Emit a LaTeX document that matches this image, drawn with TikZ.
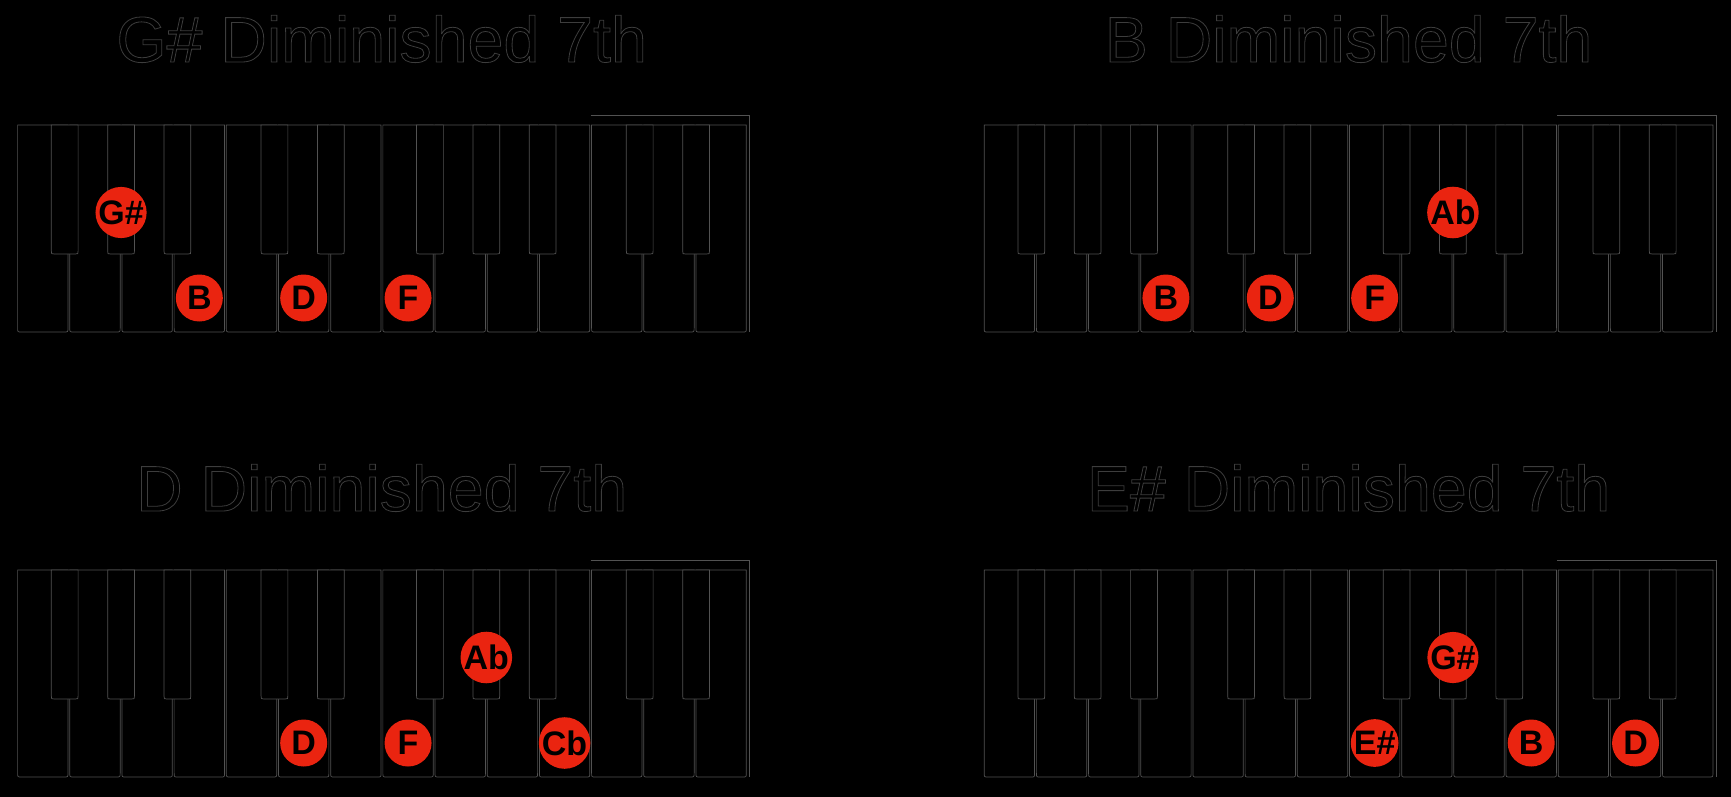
\documentclass[tikz,border=0pt]{standalone}
\usepackage{fontspec}
\setmainfont{Liberation Sans}
\definecolor{notered}{RGB}{234,36,16}
\definecolor{keyline}{gray}{0.32}
\definecolor{titleline}{gray}{0.24}
\def\kw{52.18}
\def\kh{207}
\def\bh{129}
\newcommand{\outlinetxt}[1]{\special{pdf:literal direct 1 Tr 0.8 w}#1\special{pdf:literal direct 0 Tr}}
\newcommand{\drawkeyboard}[2]{%
 \begin{scope}[shift={(#1,#2)}]
  \draw[keyline, line width=0.7pt] (11*\kw,-10) -- (14*\kw+2.4,-10) -- (14*\kw+2.4,\kh);
  \foreach \i in {0,...,13} {
    \pgfmathsetmacro\xa{\i*\kw+0.9}
    \pgfmathsetmacro\xb{(\i+1)*\kw-0.9}
    \draw[wkey] (\xa,0) -- (\xa,\kh-4) .. controls (\xa,\kh) .. (\xa+4,\kh) -- (\xb-4,\kh) .. controls (\xb,\kh) .. (\xb,\kh-4) -- (\xb,0) -- cycle;
  }
  \foreach \c in {0.92,2.0,3.08,4.94,6.02,7.92,9.0,10.08,11.94,13.02} {
    \pgfmathsetmacro\xa{\c*\kw-13.4}
    \pgfmathsetmacro\xb{\c*\kw+13.4}
    \draw[bkey] (\xa,0) -- (\xa,\bh-3) .. controls (\xa,\bh) .. (\xa+3,\bh) -- (\xb-3,\bh) .. controls (\xb,\bh) .. (\xb,\bh-3) -- (\xb,0) -- cycle;
  }
 \end{scope}}
\begin{document}
\begin{tikzpicture}[x=1pt,y=-1pt,
  wkey/.style={draw=keyline, line width=0.7pt},
  bkey/.style={draw=keyline, fill=black, line width=0.7pt},
  note/.style={circle, fill=notered, minimum size=47pt, inner sep=0pt,
    font=\fontsize{34}{34}\selectfont\bfseries, text=black},
  chordtitle/.style={anchor=base, inner sep=0pt, text=titleline,
    font=\fontsize{64.5}{70}\selectfont}]
\useasboundingbox (0,0) rectangle (1731,797);
\fill[black] (0,0) rectangle (1731,797);

% keyboards
\drawkeyboard{16.7}{125}
\drawkeyboard{983.3}{125}
\drawkeyboard{16.7}{570}
\drawkeyboard{983.3}{570}

% titles
\node[chordtitle] (t1) at (381.7,62) {\outlinetxt{G\# Diminished 7th}};
\node[chordtitle] (t2) at (1348.6,62) {\outlinetxt{B Diminished 7th}};
\node[chordtitle] (t3) at (381.7,511) {\outlinetxt{D Diminished 7th}};
\node[chordtitle] (t4) at (1348.6,511) {\outlinetxt{E\# Diminished 7th}};

% top-left notes
\node[note] (a1) at (16.7+2.0*\kw,212.5) {G\#};
\node[note] (a2) at (16.7+3.5*\kw,298) {B};
\node[note] (a3) at (16.7+5.5*\kw,298) {D};
\node[note] (a4) at (16.7+7.5*\kw,298) {F};
% top-right notes
\node[note] (b1) at (983.3+3.5*\kw,298) {B};
\node[note] (b2) at (983.3+5.5*\kw,298) {D};
\node[note] (b3) at (983.3+7.5*\kw,298) {F};
\node[note] (b4) at (983.3+9.0*\kw,212.5) {Ab};
% bottom-left notes
\node[note] (c1) at (16.7+5.5*\kw,743) {D};
\node[note] (c2) at (16.7+7.5*\kw,743) {F};
\node[note] (c3) at (16.7+9.0*\kw,657.5) {Ab};
\node[note] (c4) at (16.7+10.5*\kw,743) {Cb};
% bottom-right notes
\node[note] (d1) at (983.3+7.5*\kw,743) {E\#};
\node[note] (d2) at (983.3+9.0*\kw,657.5) {G\#};
\node[note] (d3) at (983.3+10.5*\kw,743) {B};
\node[note] (d4) at (983.3+12.5*\kw,743) {D};
\end{tikzpicture}
\end{document}
